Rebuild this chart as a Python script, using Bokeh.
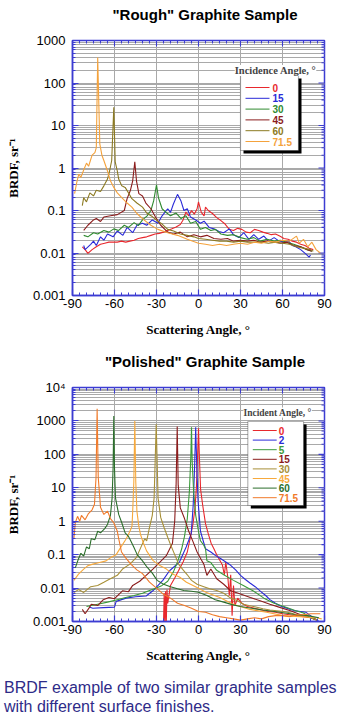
from bokeh.plotting import figure
from bokeh.models import FixedTicker, BoxAnnotation, Label, Div
from bokeh.layouts import column
from bokeh.embed import file_html
from bokeh.resources import INLINE

# ---------------- "Rough" graphite sample (incidence angles) ----------------
rough_title = "\"Rough\" Graphite Sample"
rough_labels = ["0", "15", "30", "45", "60", "71.5"]

r0_x = [-83, -81, -79, -76, -73, -70, -67, -64, -61, -58,
        -55, -52, -49, -46, -43, -40, -37, -34, -31, -28,
        -25, -22, -19, -16, -13, -11, -9, -7, -5, -3,
        -1, 0, 2, 4, 5, 7, 10, 13, 16, 19,
        22, 25, 28, 31, 34, 37, 40, 43, 46, 49,
        52, 55, 58, 61, 64, 67, 70, 73, 76, 79,
        82]
r0_y = [0.014, 0.012, 0.0098, 0.012, 0.014, 0.016, 0.017, 0.018, 0.018, 0.018,
        0.019, 0.018, 0.019, 0.020, 0.022, 0.023, 0.024, 0.026, 0.028, 0.029,
        0.031, 0.034, 0.037, 0.041, 0.047, 0.060, 0.092, 0.075, 0.10, 0.082,
        0.11, 0.16, 0.09, 0.075, 0.12, 0.10, 0.085, 0.068, 0.058, 0.048,
        0.036, 0.034, 0.038, 0.036, 0.031, 0.030, 0.036, 0.034, 0.031, 0.029,
        0.027, 0.028, 0.025, 0.022, 0.021, 0.019, 0.018, 0.016, 0.015, 0.013,
        0.012]

r15_x = [-82, -81, -77, -75, -73, -70, -67.6, -65, -61, -58,
         -54, -51, -47, -44, -40, -37, -33, -29, -26, -22,
         -20, -18, -15, -12.6, -10.4, -8, -5.7, -2, 1.4, 4,
         7.6, 11, 14.7, 18, 22, 25, 28.8, 32.4, 36, 39.5,
         43, 46.7, 50, 54, 57.6, 61, 64.5, 67, 69.5, 73,
         76.6, 79, 80]
r15_y = [0.015, 0.012, 0.016, 0.019, 0.015, 0.024, 0.020, 0.028, 0.024, 0.033,
         0.026, 0.040, 0.030, 0.045, 0.050, 0.045, 0.060, 0.050, 0.075, 0.11,
         0.09, 0.14, 0.24, 0.17, 0.10, 0.11, 0.07, 0.06, 0.05, 0.056,
         0.040, 0.037, 0.032, 0.030, 0.037, 0.027, 0.023, 0.030, 0.021, 0.027,
         0.021, 0.025, 0.019, 0.023, 0.019, 0.018, 0.019, 0.015, 0.014, 0.012,
         0.0095, 0.008, 0.009]

r30_x = [-82, -79, -75, -72, -67.6, -64, -60.5, -57, -53, -50,
         -46, -43, -40, -36.7, -34, -32, -30, -28.6, -26, -24,
         -20, -16, -12.6, -9, -5.7, -2, 1.4, 5, 8.8, 12,
         16, 20.7, 25, 30, 34.8, 39.5, 44, 49, 54, 58.6,
         63, 68, 73, 77.6, 81]
r30_y = [0.026, 0.024, 0.030, 0.028, 0.034, 0.031, 0.037, 0.034, 0.045, 0.040,
         0.052, 0.044, 0.060, 0.075, 0.10, 0.17, 0.40, 0.20, 0.11, 0.095,
         0.075, 0.087, 0.065, 0.075, 0.050, 0.055, 0.036, 0.040, 0.034, 0.036,
         0.028, 0.026, 0.027, 0.023, 0.021, 0.023, 0.019, 0.021, 0.019, 0.020,
         0.018, 0.016, 0.014, 0.012, 0.011]

r45_x = [-82, -79, -75, -73, -70, -67.6, -62.9, -58, -53, -51,
         -48.6, -47, -45.5, -44.3, -42.6, -40, -37.6, -34, -30.7, -27,
         -22, -17.8, -13, -8, -3.3, 1.4, 6, 11, 16, 20.7,
         25, 30, 34.8, 39.5, 44, 49, 54, 58.6, 63, 68,
         73, 77.6, 81]
r45_y = [0.034, 0.045, 0.060, 0.065, 0.055, 0.070, 0.075, 0.080, 0.10, 0.19,
         0.30, 0.50, 1.4, 0.50, 0.25, 0.22, 0.15, 0.11, 0.07, 0.045,
         0.031, 0.028, 0.031, 0.024, 0.027, 0.024, 0.026, 0.022, 0.021, 0.022,
         0.019, 0.020, 0.019, 0.020, 0.018, 0.019, 0.018, 0.017, 0.018, 0.015,
         0.014, 0.012, 0.011]

r60_x = [-83, -82, -80, -77.6, -75, -73, -70, -67.6, -65, -63.5,
         -62, -60.5, -59.5, -58, -57, -54.8, -52.4, -50, -47.6, -44,
         -40, -36.7, -33, -29, -26, -22, -17.8, -13, -8, -3.3,
         0, 5, 10, 15, 20, 25, 30, 35, 40, 45,
         50, 55, 60, 65, 70, 75, 80, 82]
r60_y = [0.13, 0.20, 0.16, 0.26, 0.22, 0.30, 0.28, 0.38, 0.55, 0.85,
         1.5, 27, 1.4, 0.85, 0.55, 0.38, 0.35, 0.26, 0.19, 0.15,
         0.12, 0.085, 0.072, 0.056, 0.048, 0.036, 0.033, 0.028, 0.026, 0.024,
         0.022, 0.021, 0.020, 0.019, 0.019, 0.018, 0.019, 0.018, 0.018, 0.018,
         0.017, 0.018, 0.017, 0.016, 0.014, 0.013, 0.012, 0.011]

r71_x = [-88.5, -87, -85.5, -84, -82, -80, -78.5, -76, -74, -73,
         -72, -70.5, -69, -67.6, -65, -62.9, -60.5, -58, -54.8, -51,
         -47.6, -44, -39, -34, -29, -22, -15, -8, 0, 5,
         10, 15, 20, 25, 30, 35, 40, 45, 50, 55,
         60, 65, 70, 72, 75, 78, 81, 84, 87]
r71_y = [0.25, 0.45, 0.72, 0.60, 0.90, 1.3, 1.1, 2.0, 2.3, 3.0,
         400, 3.7, 2.0, 1.5, 0.85, 0.50, 0.35, 0.26, 0.20, 0.15,
         0.12, 0.085, 0.060, 0.045, 0.036, 0.030, 0.026, 0.021, 0.017, 0.016,
         0.015, 0.016, 0.015, 0.016, 0.017, 0.016, 0.018, 0.017, 0.019, 0.018,
         0.020, 0.019, 0.025, 0.017, 0.021, 0.014, 0.018, 0.012, 0.010]

rough_x = [r0_x, r15_x, r30_x, r45_x, r60_x, r71_x]
rough_y = [r0_y, r15_y, r30_y, r45_y, r60_y, r71_y]
rough_colors = ["#e8282d", "#2a2ad8", "#2f8a2f", "#8b1c1c", "#8c7a22", "#f4a23c"]

# ---------------- "Polished" graphite sample (incident angles) ----------------
polished_title = "\"Polished\" Graphite Sample"
polished_labels = ["0", "2", "5", "15", "30", "45", "60", "71.5"]

p0_x = [-25, -24.5, -24, -23.5, -23, -22.5, -22, -20, -17, -14,
        -11, -8, -6, -4, -2.5, -1.5, -0.7, 0, 0.7, 1.5,
        3, 5, 7, 9, 11, 13, 15, 17, 18.5, 19.5,
        21, 22, 23, 24, 25, 26, 28, 31, 35, 40,
        45, 50, 55, 60, 65, 70, 75, 80, 85]
p0_y = [0.0009, 0.007, 0.0008, 0.008, 0.0009, 0.009, 0.0035, 0.012, 0.02, 0.035,
        0.06, 0.12, 0.3, 0.8, 2.5, 10, 80, 600, 70, 9,
        3.0, 0.85, 0.42, 0.22, 0.15, 0.1, 0.07, 0.05, 0.025, 0.06,
        0.02, 0.006, 0.025, 0.0015, 0.012, 0.003, 0.005, 0.0035, 0.0028, 0.0025,
        0.0022, 0.002, 0.0019, 0.0017, 0.0016, 0.0015, 0.0014, 0.0013, 0.0011]

p2_x = [-78, -75.5, -68, -60, -58.8, -51.7, -45, -37.4, -32.6, -25.5,
        -20.7, -13.6, -8.8, -5.2, -3.8, -2.8, -2, -1.2, -0.3, 1.4,
        5, 8.8, 12, 16, 19.5, 23, 26.5, 30, 33.5, 37,
        40.5, 44.3, 48, 51, 55, 58.6, 62, 65.7, 69, 72.9,
        76.6, 79, 82, 86]
p2_y = [0.0027, 0.0025, 0.0026, 0.0027, 0.0040, 0.0050, 0.0055, 0.0058, 0.0083, 0.017,
        0.033, 0.06, 0.17, 0.42, 3.0, 40, 650, 40, 4, 0.5,
        0.15, 0.12, 0.095, 0.075, 0.06, 0.048, 0.035, 0.024, 0.018, 0.014,
        0.011, 0.008, 0.006, 0.0045, 0.0035, 0.0029, 0.0026, 0.0023, 0.0021, 0.002,
        0.0019, 0.0016, 0.0013, 0.001]

p5_x = [-80, -72, -65, -58, -52, -46, -40, -35, -30, -26,
        -22, -18, -15, -12, -10, -8, -6.5, -5.5, -5, -4.5,
        -3.5, -2, 0, 1.4, 3.5, 5, 6, 8.8, 13, 18,
        25, 32, 39.5, 46.7, 54, 61, 68, 75, 80, 85]
p5_y = [0.0028, 0.0033, 0.0038, 0.0045, 0.0052, 0.006, 0.007, 0.0085, 0.010, 0.012,
        0.016, 0.03, 0.06, 0.15, 0.35, 1.2, 8, 80, 650, 60,
        8, 1.5, 0.5, 0.26, 0.2, 0.15, 0.066, 0.058, 0.034, 0.025,
        0.017, 0.012, 0.008, 0.005, 0.0035, 0.0028, 0.0022, 0.0018, 0.0013, 0.0011]

p15_x = [-83, -81, -78, -76.6, -72, -68, -64, -60, -54.3, -50,
         -47, -42, -37.4, -32.6, -27.9, -23, -18.6, -17, -16, -15.2,
         -14.5, -13, -10, -7, -4, -1, 2, 3.8, 6, 8.8,
         13, 18, 23, 30, 37, 44, 51, 58.6, 65.7, 73,
         80, 85]
p15_y = [0.0023, 0.0017, 0.0026, 0.0033, 0.0030, 0.0045, 0.0052, 0.0048, 0.0083, 0.0078,
         0.012, 0.016, 0.024, 0.037, 0.058, 0.093, 0.22, 1.0, 12, 680,
         12, 2.5, 1.2, 0.5, 0.25, 0.12, 0.07, 0.052, 0.024, 0.037,
         0.019, 0.013, 0.0083, 0.0066, 0.0052, 0.0042, 0.0033, 0.0026, 0.0021, 0.0016,
         0.0013, 0.0011]

p30_x = [-89, -85.7, -82, -77, -72, -67.6, -63, -58, -54, -49,
         -44.3, -40.8, -38.4, -37, -35, -33, -31.7, -30.2, -28.9, -27,
         -24.6, -22, -20, -17, -14, -11, -8, -5, -1, 3.8,
         8, 13, 18, 23, 28, 32, 36, 41, 46, 51,
         56, 61, 66, 70, 75, 80, 85]
p30_y = [0.0074, 0.009, 0.0074, 0.011, 0.012, 0.015, 0.019, 0.024, 0.038, 0.052,
         0.083, 0.18, 0.30, 0.26, 0.65, 1.5, 5, 800, 5, 1.3,
         0.65, 0.33, 0.2, 0.1, 0.05, 0.035, 0.025, 0.017, 0.013, 0.011,
         0.0095, 0.0085, 0.007, 0.005, 0.0042, 0.0033, 0.003, 0.0027, 0.0024, 0.0022,
         0.0021, 0.002, 0.0018, 0.0016, 0.0015, 0.0013, 0.0011]

p45_x = [-89, -85.7, -82, -79, -75.5, -70.7, -66, -62.4, -58.8, -55,
         -51.6, -49, -47.5, -47, -46.2, -45.5, -44.8, -44, -42.6, -41.4,
         -39.5, -37.1, -32.4, -27.6, -22.9, -18.1, -13.3, -8.6, -1.4, 5.7,
         15.2, 24.8, 36.7, 48.6, 60.5, 72.4, 84.3, 88]
p45_y = [0.017, 0.026, 0.037, 0.047, 0.052, 0.058, 0.065, 0.083, 0.10, 0.18,
         0.30, 0.50, 0.7, 2.0, 15, 1000, 15, 2.0, 0.7, 0.4,
         0.23, 0.13, 0.066, 0.047, 0.037, 0.026, 0.021, 0.015, 0.0105, 0.0074,
         0.0052, 0.0033, 0.0023, 0.0019, 0.0015, 0.0014, 0.0013, 0.0012]

p60_x = [-88, -86, -84, -82, -80, -78, -76.6, -74, -72, -70,
         -67, -65, -62.9, -61.7, -61, -60.5, -60, -59.3, -57, -54.8,
         -52.4, -50, -48.6, -46, -43.8, -40, -36.7, -33, -29.5, -25,
         -20, -15, -10.5, -5, 0, 6, 12, 18, 24, 30,
         38, 46, 54, 62, 70, 78, 86]
p60_y = [0.04, 0.07, 0.11, 0.09, 0.17, 0.15, 0.3, 0.28, 0.5, 0.45,
         0.6, 0.8, 1.5, 5, 40, 1400, 40, 5, 1.6, 0.9,
         0.45, 0.35, 0.27, 0.16, 0.10, 0.065, 0.042, 0.028, 0.017, 0.013,
         0.011, 0.0095, 0.0085, 0.008, 0.0075, 0.006, 0.0045, 0.0038, 0.0032, 0.0028,
         0.0025, 0.0022, 0.002, 0.0018, 0.0016, 0.0015, 0.0013]

p71_x = [-89, -88, -86.4, -84.8, -83.6, -81, -78.6, -76, -74.3, -73.2,
         -72.4, -71.6, -70.4, -70, -67.6, -65, -62.9, -60.5, -58, -57,
         -55, -52, -48, -44, -40, -35, -30, -25, -20, -15,
         -10, -5, 0, 5, 10, 15, 20, 25, 30, 35,
         40, 45, 50, 55, 60, 65, 70, 75, 80, 87]
p71_y = [0.3, 0.9, 1.4, 1.0, 1.5, 1.1, 1.7, 2.2, 3.2, 20,
         2300, 20, 4.5, 2.6, 1.6, 2.0, 1.2, 0.9, 0.5, 0.3,
         0.12, 0.08, 0.05, 0.035, 0.027, 0.015, 0.01, 0.0065, 0.005, 0.0035,
         0.003, 0.0025, 0.002, 0.0019, 0.0016, 0.0014, 0.0013, 0.0012, 0.0011, 0.0012,
         0.0013, 0.0012, 0.0014, 0.0015, 0.0015, 0.0014, 0.0016, 0.0016, 0.0017, 0.0017]

polished_x = [p0_x, p2_x, p5_x, p15_x, p30_x, p45_x, p60_x, p71_x]
polished_y = [p0_y, p2_y, p5_y, p15_y, p30_y, p45_y, p60_y, p71_y]
polished_colors = ["#e8282d", "#2a2ad8", "#3a9a3a", "#8b1c1c", "#a89038", "#f7a93c", "#2b6e2b", "#f07a2a"]

# axis ticks
x_ticks = [-90, -60, -30, 0, 30, 60, 90]
x_minor = list(range(-90, 91, 5))
rough_y_ticks = [0.001, 0.01, 0.1, 1, 10, 100, 1000]
rough_y_text = ["0.001", "0.01", "0.1", "1", "10", "100", "1000"]
pol_y_ticks = [0.001, 0.01, 0.1, 1, 10, 100, 1000, 10000]
pol_y_text = ["0.001", "0.01", "0.1", "1", "10", "100", "1000", "10\u2074"]

caption_text = "BRDF example of two similar graphite samples<br>with different surface finishes."

FRAME_BLUE = "#3c3cd2"
GRID = "#a9a9a9"


def minor_log(lo, hi):
    out = []
    e = lo
    while e < hi:
        for k in range(2, 10):
            out.append(k * 10.0 ** e)
        e += 1
    return out


def style_axis(ax):
    ax.axis_line_color = FRAME_BLUE
    ax.axis_line_width = 1.5
    ax.major_tick_line_color = FRAME_BLUE
    ax.minor_tick_line_color = FRAME_BLUE
    ax.major_tick_in = 6
    ax.major_tick_out = 0
    ax.minor_tick_in = 3
    ax.minor_tick_out = 0
    ax.major_tick_line_width = 1.2
    ax.minor_tick_line_width = 1
    ax.major_label_text_font = "Liberation Sans"
    ax.major_label_text_font_size = "13px"
    ax.major_label_text_color = "black"
    ax.axis_label_text_font = "Liberation Serif"
    ax.axis_label_text_font_style = "bold"
    ax.axis_label_text_font_size = "13px"
    ax.axis_label_text_color = "black"


def title_div(text, h, pad_top):
    html = ('<div style="margin-left:60px;width:290px;text-align:center;'
            'font-family:\'Liberation Sans\',Arial,sans-serif;font-weight:bold;font-size:15px;'
            'line-height:18px;color:black;white-space:nowrap;padding-top:%dpx">%s</div>' % (pad_top, text))
    return Div(text=html, width=350, height=h, margin=(0, 0, 0, 0))


def make_fig(h, top, bottom, left, ymax_exp, yticks, ytext, frame_w, frame_h):
    p = figure(width=350, height=h, x_range=(-90, 90), y_range=(0.001, 10.0 ** ymax_exp),
               y_axis_type="log", output_backend="svg", toolbar_location=None,
               min_border_left=left, min_border_right=26, min_border_top=top,
               min_border_bottom=bottom)
    p.outline_line_color = FRAME_BLUE
    p.outline_line_width = 1.5
    p.background_fill_color = "white"
    p.border_fill_color = "white"

    yminor = minor_log(-3, ymax_exp)
    xt = FixedTicker(ticks=x_ticks, minor_ticks=x_minor)
    yt = FixedTicker(ticks=yticks, minor_ticks=yminor)
    p.xaxis.ticker = xt
    p.yaxis.ticker = yt
    p.xaxis.major_label_overrides = {v: str(v) for v in x_ticks}
    p.yaxis.major_label_overrides = dict(zip(yticks, ytext))
    p.xaxis.axis_label = "Scattering Angle, \u00b0"
    p.yaxis.axis_label = "BRDF, sr\u207b\u00b9"
    p.xaxis.major_label_standoff = 3
    p.xaxis.axis_label_standoff = 11
    p.yaxis.major_label_standoff = 7
    p.yaxis.axis_label_standoff = 9
    style_axis(p.xaxis[0])
    style_axis(p.yaxis[0])

    # mirrored inward ticks on the top and right frame edges (drawn through the scales)
    ytop = 10.0 ** ymax_exp
    dec_px = frame_h / (ymax_exp + 3.0)
    deg_px = frame_w / 180.0
    tx0, tx1, ty0, ty1 = [], [], [], []
    for v in x_minor:
        tx0.append(v); tx1.append(v); ty0.append(ytop)
        ty1.append(ytop / 10 ** ((6 if v in x_ticks else 3) / dec_px))
    for v in list(yticks) + yminor:
        tx0.append(90); tx1.append(90 - (6 if v in yticks else 3) / deg_px)
        ty0.append(v); ty1.append(v)
    p.segment(x0=tx0, y0=ty0, x1=tx1, y1=ty1, line_color=FRAME_BLUE, line_width=1.1)

    p.xgrid.grid_line_color = GRID
    p.xgrid.grid_line_width = 1
    p.ygrid.grid_line_color = GRID
    p.ygrid.minor_grid_line_color = GRID
    p.ygrid.grid_line_width = 1
    p.ygrid.minor_grid_line_width = 1
    return p


def add_legend(p, conv, box_px, title_px, title_text, title_size, item_y0, item_dy, line_px, text_px,
               labels, colors):
    l, r, t, b = box_px
    L, T = conv(l + 3, t + 3)
    R, B = conv(r + 3, b + 3)
    p.add_layout(BoxAnnotation(left=L, right=R, top=T, bottom=B, fill_color="black",
                               fill_alpha=1, line_color=None))
    L, T = conv(l, t)
    R, B = conv(r, b)
    p.add_layout(BoxAnnotation(left=L, right=R, top=T, bottom=B, fill_color="white",
                               fill_alpha=1, line_color="black", line_width=1.2))
    tx, ty = conv(*title_px)
    p.add_layout(Label(x=tx, y=ty, text=title_text, text_align="center", text_baseline="middle",
                       text_font="Liberation Serif", text_font_style="bold", text_font_size=title_size,
                       background_fill_color="white", level="overlay"))
    x0s, x1s, ys = [], [], []
    for i, (lab, c) in enumerate(zip(labels, colors)):
        py = item_y0 + i * item_dy
        xa, ya = conv(line_px[0], py)
        xb, _ = conv(line_px[1], py)
        xt_, _ = conv(text_px, py)
        x0s.append(xa)
        x1s.append(xb)
        ys.append(ya)
        p.add_layout(Label(x=xt_, y=ya, text=lab, text_color=c, text_baseline="middle",
                           text_font="Liberation Sans", text_font_style="bold",
                           text_font_size="10px", level="overlay"))
    seg = p.segment(x0=x0s, y0=ys, x1=x1s, y1=ys, line_color=colors, line_width=1)
    seg.level = "overlay"


# ---- top figure (frame at page y 40..295) ----
t1 = title_div(rough_title, 27, 6)
p1 = make_fig(318, 13, 50, 72, 3, rough_y_ticks, rough_y_text, 252, 255)
for xs, ys, c in zip(rough_x, rough_y, rough_colors):
    p1.line(xs, ys, line_color=c, line_width=1.1)


def conv1(px, py):
    return (px - 72) / 252.0 * 180 - 90, 10 ** (3 - (py - 40) / 255.0 * 6)


add_legend(p1, conv1, (240, 298, 75, 150), (275, 70), "Incidence Angle, \u00b0", "10.5px",
           87, 10.8, (245, 269), 272, rough_labels, rough_colors)

# ---- bottom figure (frame at page y 387..621) ----
t2 = title_div(polished_title, 27, 8)
p2 = make_fig(298, 15, 49, 71, 4, pol_y_ticks, pol_y_text, 253, 234)
for xs, ys, c in zip(polished_x, polished_y, polished_colors):
    p2.line(xs, ys, line_color=c, line_width=1.1)


def conv2(px, py):
    return (px - 71) / 253.0 * 180 - 90, 10 ** (4 - (py - 387) / 234.0 * 7)


add_legend(p2, conv2, (247, 303, 421, 505), (277, 412), "Incident Angle, \u00b0", "9.5px",
           430, 9.6, (252, 276), 278, polished_labels, polished_colors)

caption = Div(text=caption_text,
              width=350, height=49, margin=(0, 0, 0, 0),
              styles={"font-family": "Liberation Sans, Arial, sans-serif", "font-size": "16px",
                      "color": "#2e2b88", "line-height": "19px", "padding-left": "4px",
                      "padding-top": "8px", "white-space": "nowrap"})

layout = column(t1, p1, t2, p2, caption, spacing=0)
open("out.html", "w").write(file_html(layout, INLINE))
